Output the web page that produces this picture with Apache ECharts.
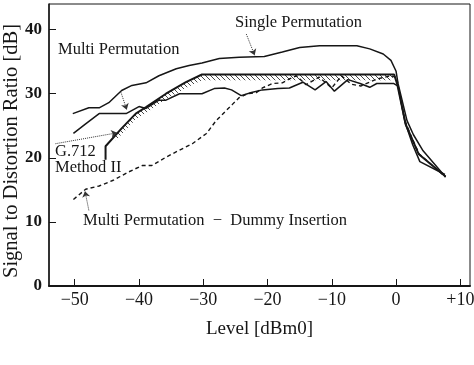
<!DOCTYPE html>
<html><head><meta charset="utf-8">
<script src="https://cdn.jsdelivr.net/npm/echarts@6/dist/echarts.min.js"></script>
<style>html,body{margin:0;padding:0;background:#fff}#c{width:474px;height:365px}</style>
</head><body><div id="c"></div>
<script>
// ---- data ----
const xTicks = [-50, -40, -30, -20, -10, 0, 10];
const yTicks = [0, 10, 20, 30, 40];

// Single Permutation (upper solid line)
const singleX = [-50.3,-47.8,-46.2,-44.7,-42.7,-41.1,-38.9,-36.9,-34.2,-32.2,-30.2,-27.5,-24.4,-20.5,-17.7,-15.0,-11.9,-6.1,-4.1,-2.0,-0.8,0.0,0.3,1.7,2.7,4.2,7.7];
const singleY = [26.9,27.8,27.8,28.6,30.5,31.3,31.7,32.8,33.9,34.4,34.8,35.5,35.7,35.8,36.5,37.2,37.5,37.5,37.0,36.2,35.2,33.5,31.6,25.8,23.6,21.1,17.0];

// Multi Permutation (lower solid line)
const multiX = [-50.2,-48.3,-46.2,-44.2,-42.0,-40.0,-38.9,-36.9,-35.8,-33.7,-30.2,-28.3,-26.7,-25.6,-24.1,-22.5,-20.8,-18.4,-16.6,-14.5,-12.6,-10.9,-9.6,-7.5,-5.6,-4.1,-3.0,-0.4,0.3,1.4,2.6,3.7,7.6];
const multiY = [23.8,25.3,26.9,26.9,26.9,28.0,27.7,29.0,29.0,30.0,30.0,30.8,30.9,30.6,29.7,30.2,30.6,30.8,30.9,31.8,30.6,31.9,30.4,32.2,31.6,31.0,31.6,31.6,31.2,25.5,22.0,19.4,17.4];

// Multi Permutation - Dummy Insertion (dashed line)
const dummyX = [-50.2,-48.3,-46.2,-44.0,-41.6,-39.5,-38.0,-35.8,-33.7,-31.7,-29.5,-28.0,-27.0,-25.5,-24.4,-23.1,-21.7,-20.8,-19.2,-17.7,-16.6,-15.5,-14.0,-12.0,-10.0,-8.5,-7.0,-5.5,-3.0,-0.8,0.1,1.3,2.5,3.6,7.7];
const dummyY = [13.5,15.1,15.6,16.5,17.8,18.8,18.8,20.1,21.2,22.2,23.8,25.8,26.8,28.3,29.4,30.0,30.2,30.9,31.6,31.7,32.3,32.8,31.4,32.6,30.9,32.8,31.5,31.2,32.3,32.8,32.5,26.0,23.0,20.6,17.0];

// G.712 / Method II mask line
const maskX = [-45.2,-45.2,-42.7,-40.5,-38.9,-35.8,-32.7,-30.2,-0.3,0.2,1.5,3.5,7.7];
const maskY = [19.7,21.8,24.6,26.9,27.9,30.0,31.8,33.0,33.0,31.4,25.2,20.6,17.1];

// hatched part of the mask
const hatchX = [-43.6,-40.5,-38.9,-35.8,-32.7,-30.2,-0.5];
const hatchY = [23.6,26.9,27.9,30.0,31.8,33.0,33.0];

// annotation arrows [from, to] in data units
const arrowSingle = [[-23.3, 39.3], [-22.0, 36.0]];
const arrowMulti  = [[-42.8, 30.2], [-41.9, 27.5]];
const arrowG712   = [[-53.0, 22.2], [-43.4, 23.9]];
const arrowDummy  = [[-47.8, 11.8], [-48.4, 14.8]];

// ---- chart ----
const zip = (xs, ys) => xs.map((x, i) => [x, ys[i]]);
const HATCH_BAND = 0.9;

const pc = document.createElement('canvas');
pc.width = 5; pc.height = 5;
const g = pc.getContext('2d');
g.strokeStyle = '#333'; g.lineWidth = 1;
g.beginPath(); g.moveTo(0, 0); g.lineTo(5, 5); g.stroke();

const serifFont = '"Liberation Serif", "DejaVu Serif", serif';
const ink = '#161616';
const noteFont = '16.5px ' + serifFont;

const chart = echarts.init(document.getElementById('c'), null, {renderer: 'canvas'});

const arrowLine = (pair) => [{coord: pair[0]}, {coord: pair[1]}];

chart.setOption({
  animation: false,
  backgroundColor: '#fff',
  grid: {left: 49, right: 4, top: 4, bottom: 79, show: true, borderColor: ink, borderWidth: 1,
         containLabel: false, outerBoundsMode: 'none'},
  xAxis: {
    type: 'value', min: -54, max: 11.5,
    name: 'Level [dBm0]', nameLocation: 'middle', nameGap: 34,
    nameTextStyle: {fontFamily: serifFont, fontSize: 19, color: ink},
    axisLine: {show: true, onZero: false, lineStyle: {color: ink, width: 2}},
    axisTick: {show: true, inside: true, length: 7, customValues: xTicks, lineStyle: {color: ink}},
    axisLabel: {customValues: xTicks, margin: 5, fontFamily: serifFont, fontSize: 18, color: ink,
      formatter: v => v < 0 ? '\u2212' + Math.abs(v) : (v > 0 ? '+' + v : '' + v)},
    splitLine: {show: false}
  },
  yAxis: {
    type: 'value', min: 0, max: 44,
    axisLine: {show: true, onZero: false, lineStyle: {color: ink, width: 1.5}},
    axisTick: {show: true, inside: true, length: 7, customValues: yTicks, lineStyle: {color: ink}},
    axisLabel: {customValues: yTicks, margin: 7, fontFamily: serifFont, fontSize: 17, color: ink, fontWeight: 'bold'},
    splitLine: {show: false}
  },
  series: [
    {
      name: 'hatch', type: 'custom', silent: true,
      data: [0],
      renderItem: (params, api) => {
        const top = hatchX.map((x, i) => api.coord([x, hatchY[i]]));
        const bottom = hatchX.map((x, i) => api.coord([x, hatchY[i] - HATCH_BAND])).reverse();
        return {
          type: 'polygon',
          shape: {points: top.concat(bottom)},
          style: {fill: {image: pc, repeat: 'repeat'}, stroke: null, opacity: 0.9}
        };
      }
    },
    {
      name: 'G.712 / Method II', type: 'line', symbol: 'none',
      data: zip(maskX, maskY),
      lineStyle: {color: ink, width: 2}
    },
    {
      name: 'Multi Permutation', type: 'line', symbol: 'none',
      data: zip(multiX, multiY),
      lineStyle: {color: ink, width: 1.5}
    },
    {
      name: 'Multi Permutation - Dummy Insertion', type: 'line', symbol: 'none',
      data: zip(dummyX, dummyY),
      lineStyle: {color: ink, width: 1.4, type: [4, 3]}
    },
    {
      name: 'Single Permutation', type: 'line', symbol: 'none',
      data: zip(singleX, singleY),
      lineStyle: {color: ink, width: 1.5},
      markLine: {
        silent: true, symbol: ['none', 'arrow'], symbolSize: 6,
        label: {show: false},
        lineStyle: {color: '#333', width: 1, type: 'dotted'},
        data: [arrowLine(arrowSingle), arrowLine(arrowMulti), arrowLine(arrowG712), arrowLine(arrowDummy)]
      }
    }
  ],
  graphic: [
    {type: 'text', x: 12, y: 151, rotation: Math.PI / 2,
     style: {text: 'Signal to Distortion Ratio [dB]', fill: ink, font: '20.5px ' + serifFont, align: 'center', verticalAlign: 'middle'}},
    {type: 'text', x: 58, y: 50, style: {text: 'Multi Permutation', fill: ink, font: noteFont, verticalAlign: 'middle'}},
    {type: 'text', x: 235, y: 23, style: {text: 'Single Permutation', fill: ink, font: noteFont, verticalAlign: 'middle'}},
    {type: 'text', x: 55, y: 152, style: {text: 'G.712', fill: ink, font: noteFont, verticalAlign: 'middle'}},
    {type: 'text', x: 55, y: 168, style: {text: 'Method II', fill: ink, font: noteFont, verticalAlign: 'middle'}},
    {type: 'text', x: 83, y: 221, style: {text: 'Multi Permutation  \u2212  Dummy Insertion', fill: ink, font: noteFont, verticalAlign: 'middle'}}
  ]
});
</script>
</body></html>
